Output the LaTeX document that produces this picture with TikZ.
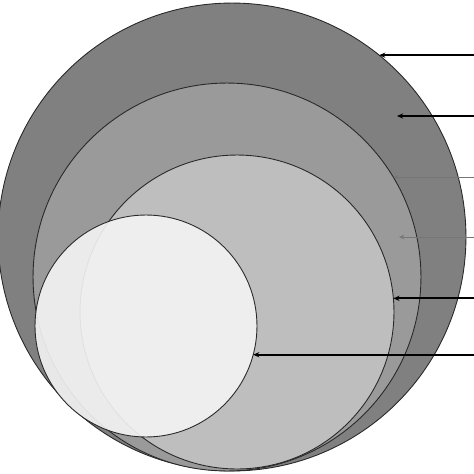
\documentclass[tikz,border=0pt]{standalone}
\usepackage{tikz}
\usepackage{xcolor}
\usetikzlibrary{arrows.meta}
\definecolor{layerDark}{RGB}{128, 128, 128}
\definecolor{layerMid}{RGB}{154, 154, 154}
\definecolor{layerLight}{RGB}{190, 190, 190}
\definecolor{layerPale}{RGB}{244, 244, 244}
\definecolor{edgeGray}{RGB}{40, 40, 40}
\definecolor{faintGray}{RGB}{118, 118, 118}

\begin{document}
\begin{tikzpicture}[x=0.02cm, y=-0.02cm,
    layer/.style={circle, draw=edgeGray, line width=0.5pt, inner sep=0pt, outer sep=0pt},
    pointer/.style={-{Stealth[length=3.5pt, width=3pt]}, line width=1.1pt, black},
    faintpointer/.style={-{Stealth[length=3pt, width=2.5pt]}, line width=0.45pt, faintGray}]
            \useasboundingbox (0,0) rectangle (474,474);

            % Layers
            \node[layer, fill=layerDark, minimum size=9.36cm] (outer) at (232,237) {};
            \node[layer, fill=layerMid, minimum size=7.76cm] (middle) at (227,277) {};
            \node[layer, fill=layerLight, minimum size=6.28cm] (inner) at (237,312) {};
            \node[layer, fill=layerPale, fill opacity=0.9, minimum size=4.44cm] (core) at (146,326) {};

            % Right margin and points inside the rings
            \coordinate (margin) at (474,0);
            \coordinate (outerRing) at (397,116);
            \coordinate (middleRing) at (399,237);

            % Pointers
            \draw[pointer] (outer.51 -| margin) -- (outer.51);
            \draw[pointer] (outerRing -| margin) -- (outerRing);
            \draw[faintpointer] (middle.31 -| margin) -- (middle.31);
            \draw[faintpointer] (middleRing -| margin) -- (middleRing);
            \draw[pointer] (inner.5 -| margin) -- (inner.5);
            \draw[pointer] (core.-15 -| margin) -- (core.-15);
        \end{tikzpicture}
\end{document}
